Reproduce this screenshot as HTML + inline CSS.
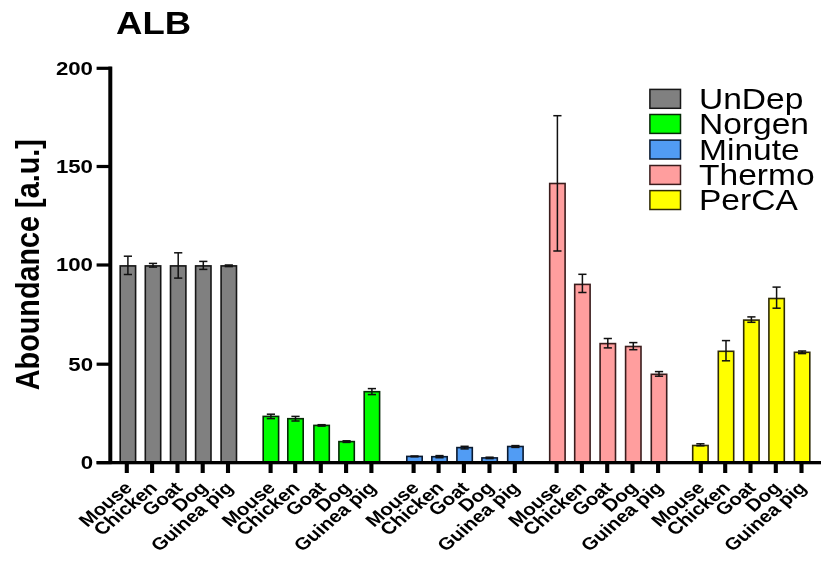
<!DOCTYPE html><html><head><meta charset="utf-8"><style>html,body{margin:0;padding:0;background:#fff;overflow:hidden;}svg{display:block;will-change:transform;}text{font-family:"Liberation Sans",sans-serif;}</style></head><body>
<svg width="830" height="568" viewBox="0 0 830 568">
<rect width="830" height="568" fill="#fff"/>
<text transform="translate(116,33.5) scale(1.16,1)" font-size="31.5" font-weight="bold" fill="#000">ALB</text>
<text transform="translate(38.5,390.2) scale(1.17,1) rotate(-90)" font-size="28.8" font-weight="bold" fill="#000">Aboundance [a.u.]</text>
<rect x="120.20" y="265.90" width="15.40" height="196.70" fill="#808080" stroke="#161616" stroke-width="1.6"/>
<rect x="127.15" y="256.20" width="1.5" height="18.30" fill="#111"/>
<rect x="123.80" y="255.45" width="8.2" height="1.5" fill="#111"/>
<rect x="123.80" y="273.75" width="8.2" height="1.5" fill="#111"/>
<rect x="124.75" y="463" width="4.1" height="10" fill="#000"/>
<rect x="145.30" y="265.90" width="15.40" height="196.70" fill="#808080" stroke="#161616" stroke-width="1.6"/>
<rect x="152.25" y="263.40" width="1.5" height="3.70" fill="#111"/>
<rect x="148.90" y="262.65" width="8.2" height="1.5" fill="#111"/>
<rect x="148.90" y="266.35" width="8.2" height="1.5" fill="#111"/>
<rect x="150.05" y="463" width="4.1" height="10" fill="#000"/>
<rect x="170.50" y="265.90" width="15.40" height="196.70" fill="#808080" stroke="#161616" stroke-width="1.6"/>
<rect x="177.45" y="252.80" width="1.5" height="25.30" fill="#111"/>
<rect x="174.10" y="252.05" width="8.2" height="1.5" fill="#111"/>
<rect x="174.10" y="277.35" width="8.2" height="1.5" fill="#111"/>
<rect x="175.45" y="463" width="4.1" height="10" fill="#000"/>
<rect x="195.60" y="265.90" width="15.40" height="196.70" fill="#808080" stroke="#161616" stroke-width="1.6"/>
<rect x="202.55" y="261.40" width="1.5" height="8.00" fill="#111"/>
<rect x="199.20" y="260.65" width="8.2" height="1.5" fill="#111"/>
<rect x="199.20" y="268.65" width="8.2" height="1.5" fill="#111"/>
<rect x="200.65" y="463" width="4.1" height="10" fill="#000"/>
<rect x="221.10" y="265.90" width="15.40" height="196.70" fill="#808080" stroke="#161616" stroke-width="1.6"/>
<rect x="228.05" y="265.00" width="1.5" height="1.60" fill="#111"/>
<rect x="224.70" y="264.25" width="8.2" height="1.5" fill="#111"/>
<rect x="224.70" y="265.85" width="8.2" height="1.5" fill="#111"/>
<rect x="225.95" y="463" width="4.1" height="10" fill="#000"/>
<rect x="263.20" y="416.40" width="15.40" height="46.20" fill="#00ff00" stroke="#062a06" stroke-width="1.6"/>
<rect x="270.15" y="414.20" width="1.5" height="4.40" fill="#111"/>
<rect x="266.80" y="413.45" width="8.2" height="1.5" fill="#111"/>
<rect x="266.80" y="417.85" width="8.2" height="1.5" fill="#111"/>
<rect x="268.55" y="463" width="4.1" height="10" fill="#000"/>
<rect x="287.80" y="418.70" width="15.40" height="43.90" fill="#00ff00" stroke="#062a06" stroke-width="1.6"/>
<rect x="294.75" y="416.40" width="1.5" height="4.60" fill="#111"/>
<rect x="291.40" y="415.65" width="8.2" height="1.5" fill="#111"/>
<rect x="291.40" y="420.25" width="8.2" height="1.5" fill="#111"/>
<rect x="293.15" y="463" width="4.1" height="10" fill="#000"/>
<rect x="313.90" y="425.40" width="15.40" height="37.20" fill="#00ff00" stroke="#062a06" stroke-width="1.6"/>
<rect x="320.85" y="424.70" width="1.5" height="1.40" fill="#111"/>
<rect x="317.50" y="423.95" width="8.2" height="1.5" fill="#111"/>
<rect x="317.50" y="425.35" width="8.2" height="1.5" fill="#111"/>
<rect x="318.75" y="463" width="4.1" height="10" fill="#000"/>
<rect x="338.90" y="441.60" width="15.40" height="21.00" fill="#00ff00" stroke="#062a06" stroke-width="1.6"/>
<rect x="345.85" y="440.80" width="1.5" height="1.60" fill="#111"/>
<rect x="342.50" y="440.05" width="8.2" height="1.5" fill="#111"/>
<rect x="342.50" y="441.65" width="8.2" height="1.5" fill="#111"/>
<rect x="344.05" y="463" width="4.1" height="10" fill="#000"/>
<rect x="364.20" y="391.70" width="15.40" height="70.90" fill="#00ff00" stroke="#062a06" stroke-width="1.6"/>
<rect x="371.15" y="388.60" width="1.5" height="6.00" fill="#111"/>
<rect x="367.80" y="387.85" width="8.2" height="1.5" fill="#111"/>
<rect x="367.80" y="393.85" width="8.2" height="1.5" fill="#111"/>
<rect x="369.35" y="463" width="4.1" height="10" fill="#000"/>
<rect x="406.80" y="456.40" width="15.40" height="6.20" fill="#519cf4" stroke="#0a1a30" stroke-width="1.6"/>
<rect x="413.75" y="456.00" width="1.5" height="0.80" fill="#111"/>
<rect x="410.40" y="455.25" width="8.2" height="1.5" fill="#111"/>
<rect x="410.40" y="456.05" width="8.2" height="1.5" fill="#111"/>
<rect x="411.55" y="463" width="4.1" height="10" fill="#000"/>
<rect x="431.80" y="456.70" width="15.40" height="5.90" fill="#519cf4" stroke="#0a1a30" stroke-width="1.6"/>
<rect x="438.75" y="455.60" width="1.5" height="2.10" fill="#111"/>
<rect x="435.40" y="454.85" width="8.2" height="1.5" fill="#111"/>
<rect x="435.40" y="456.95" width="8.2" height="1.5" fill="#111"/>
<rect x="436.55" y="463" width="4.1" height="10" fill="#000"/>
<rect x="456.90" y="447.60" width="15.40" height="15.00" fill="#519cf4" stroke="#0a1a30" stroke-width="1.6"/>
<rect x="463.85" y="446.30" width="1.5" height="2.60" fill="#111"/>
<rect x="460.50" y="445.55" width="8.2" height="1.5" fill="#111"/>
<rect x="460.50" y="448.15" width="8.2" height="1.5" fill="#111"/>
<rect x="461.85" y="463" width="4.1" height="10" fill="#000"/>
<rect x="481.90" y="457.90" width="15.40" height="4.70" fill="#519cf4" stroke="#0a1a30" stroke-width="1.6"/>
<rect x="488.85" y="457.20" width="1.5" height="1.40" fill="#111"/>
<rect x="485.50" y="456.45" width="8.2" height="1.5" fill="#111"/>
<rect x="485.50" y="457.85" width="8.2" height="1.5" fill="#111"/>
<rect x="487.45" y="463" width="4.1" height="10" fill="#000"/>
<rect x="507.70" y="446.50" width="15.40" height="16.10" fill="#519cf4" stroke="#0a1a30" stroke-width="1.6"/>
<rect x="514.65" y="445.60" width="1.5" height="1.80" fill="#111"/>
<rect x="511.30" y="444.85" width="8.2" height="1.5" fill="#111"/>
<rect x="511.30" y="446.65" width="8.2" height="1.5" fill="#111"/>
<rect x="512.75" y="463" width="4.1" height="10" fill="#000"/>
<rect x="549.70" y="183.50" width="15.40" height="279.10" fill="#ff9e9e" stroke="#3a1c1c" stroke-width="1.6"/>
<rect x="556.65" y="115.70" width="1.5" height="135.30" fill="#111"/>
<rect x="553.30" y="114.95" width="8.2" height="1.5" fill="#111"/>
<rect x="553.30" y="250.25" width="8.2" height="1.5" fill="#111"/>
<rect x="554.55" y="463" width="4.1" height="10" fill="#000"/>
<rect x="574.70" y="284.40" width="15.40" height="178.20" fill="#ff9e9e" stroke="#3a1c1c" stroke-width="1.6"/>
<rect x="581.65" y="274.30" width="1.5" height="18.20" fill="#111"/>
<rect x="578.30" y="273.55" width="8.2" height="1.5" fill="#111"/>
<rect x="578.30" y="291.75" width="8.2" height="1.5" fill="#111"/>
<rect x="579.85" y="463" width="4.1" height="10" fill="#000"/>
<rect x="600.10" y="343.60" width="15.40" height="119.00" fill="#ff9e9e" stroke="#3a1c1c" stroke-width="1.6"/>
<rect x="607.05" y="338.50" width="1.5" height="9.40" fill="#111"/>
<rect x="603.70" y="337.75" width="8.2" height="1.5" fill="#111"/>
<rect x="603.70" y="347.15" width="8.2" height="1.5" fill="#111"/>
<rect x="605.15" y="463" width="4.1" height="10" fill="#000"/>
<rect x="625.60" y="346.50" width="15.40" height="116.10" fill="#ff9e9e" stroke="#3a1c1c" stroke-width="1.6"/>
<rect x="632.55" y="342.60" width="1.5" height="7.10" fill="#111"/>
<rect x="629.20" y="341.85" width="8.2" height="1.5" fill="#111"/>
<rect x="629.20" y="348.95" width="8.2" height="1.5" fill="#111"/>
<rect x="630.45" y="463" width="4.1" height="10" fill="#000"/>
<rect x="651.30" y="374.30" width="15.40" height="88.30" fill="#ff9e9e" stroke="#3a1c1c" stroke-width="1.6"/>
<rect x="658.25" y="371.60" width="1.5" height="4.60" fill="#111"/>
<rect x="654.90" y="370.85" width="8.2" height="1.5" fill="#111"/>
<rect x="654.90" y="375.45" width="8.2" height="1.5" fill="#111"/>
<rect x="656.05" y="463" width="4.1" height="10" fill="#000"/>
<rect x="692.70" y="445.50" width="15.40" height="17.10" fill="#ffff00" stroke="#2e2a06" stroke-width="1.6"/>
<rect x="699.65" y="443.80" width="1.5" height="2.00" fill="#111"/>
<rect x="696.30" y="443.05" width="8.2" height="1.5" fill="#111"/>
<rect x="696.30" y="445.05" width="8.2" height="1.5" fill="#111"/>
<rect x="698.75" y="463" width="4.1" height="10" fill="#000"/>
<rect x="718.30" y="351.30" width="15.40" height="111.30" fill="#ffff00" stroke="#2e2a06" stroke-width="1.6"/>
<rect x="725.25" y="340.60" width="1.5" height="20.20" fill="#111"/>
<rect x="721.90" y="339.85" width="8.2" height="1.5" fill="#111"/>
<rect x="721.90" y="360.05" width="8.2" height="1.5" fill="#111"/>
<rect x="723.15" y="463" width="4.1" height="10" fill="#000"/>
<rect x="743.70" y="320.10" width="15.40" height="142.50" fill="#ffff00" stroke="#2e2a06" stroke-width="1.6"/>
<rect x="750.65" y="316.90" width="1.5" height="5.40" fill="#111"/>
<rect x="747.30" y="316.15" width="8.2" height="1.5" fill="#111"/>
<rect x="747.30" y="321.55" width="8.2" height="1.5" fill="#111"/>
<rect x="748.45" y="463" width="4.1" height="10" fill="#000"/>
<rect x="768.90" y="298.50" width="15.40" height="164.10" fill="#ffff00" stroke="#2e2a06" stroke-width="1.6"/>
<rect x="775.85" y="287.10" width="1.5" height="21.10" fill="#111"/>
<rect x="772.50" y="286.35" width="8.2" height="1.5" fill="#111"/>
<rect x="772.50" y="307.45" width="8.2" height="1.5" fill="#111"/>
<rect x="773.75" y="463" width="4.1" height="10" fill="#000"/>
<rect x="794.40" y="352.30" width="15.40" height="110.30" fill="#ffff00" stroke="#2e2a06" stroke-width="1.6"/>
<rect x="801.35" y="351.00" width="1.5" height="2.60" fill="#111"/>
<rect x="798.00" y="350.25" width="8.2" height="1.5" fill="#111"/>
<rect x="798.00" y="352.85" width="8.2" height="1.5" fill="#111"/>
<rect x="799.45" y="463" width="4.1" height="10" fill="#000"/>
<rect x="108.3" y="66.6" width="4" height="397" fill="#000"/>
<rect x="96.6" y="461" width="724.4" height="3.3" fill="#000"/>
<rect x="96.6" y="66.70" width="15" height="3.2" fill="#000"/>
<text transform="translate(93,74.70) scale(1.165,1)" text-anchor="end" font-size="19.1" font-weight="bold" fill="#000">200</text>
<rect x="96.6" y="164.90" width="15" height="3.2" fill="#000"/>
<text transform="translate(93,172.90) scale(1.165,1)" text-anchor="end" font-size="19.1" font-weight="bold" fill="#000">150</text>
<rect x="96.6" y="263.40" width="15" height="3.2" fill="#000"/>
<text transform="translate(93,271.40) scale(1.165,1)" text-anchor="end" font-size="19.1" font-weight="bold" fill="#000">100</text>
<rect x="96.6" y="362.60" width="15" height="3.2" fill="#000"/>
<text transform="translate(93,370.60) scale(1.165,1)" text-anchor="end" font-size="19.1" font-weight="bold" fill="#000">50</text>
<rect x="96.6" y="461.00" width="15" height="3.2" fill="#000"/>
<text transform="translate(93,469.00) scale(1.165,1)" text-anchor="end" font-size="19.1" font-weight="bold" fill="#000">0</text>
<text transform="translate(133.40,489) scale(1.19,1) rotate(-45)" text-anchor="end" font-size="17.3" font-weight="bold" fill="#000">Mouse</text>
<text transform="translate(158.50,489) scale(1.19,1) rotate(-45)" text-anchor="end" font-size="17.3" font-weight="bold" fill="#000">Chicken</text>
<text transform="translate(183.70,489) scale(1.19,1) rotate(-45)" text-anchor="end" font-size="17.3" font-weight="bold" fill="#000">Goat</text>
<text transform="translate(208.80,489) scale(1.19,1) rotate(-45)" text-anchor="end" font-size="17.3" font-weight="bold" fill="#000">Dog</text>
<text transform="translate(234.30,489) scale(1.19,1) rotate(-45)" text-anchor="end" font-size="17.3" font-weight="bold" fill="#000">Guinea pig</text>
<text transform="translate(276.40,489) scale(1.19,1) rotate(-45)" text-anchor="end" font-size="17.3" font-weight="bold" fill="#000">Mouse</text>
<text transform="translate(301.00,489) scale(1.19,1) rotate(-45)" text-anchor="end" font-size="17.3" font-weight="bold" fill="#000">Chicken</text>
<text transform="translate(327.10,489) scale(1.19,1) rotate(-45)" text-anchor="end" font-size="17.3" font-weight="bold" fill="#000">Goat</text>
<text transform="translate(352.10,489) scale(1.19,1) rotate(-45)" text-anchor="end" font-size="17.3" font-weight="bold" fill="#000">Dog</text>
<text transform="translate(377.40,489) scale(1.19,1) rotate(-45)" text-anchor="end" font-size="17.3" font-weight="bold" fill="#000">Guinea pig</text>
<text transform="translate(420.00,489) scale(1.19,1) rotate(-45)" text-anchor="end" font-size="17.3" font-weight="bold" fill="#000">Mouse</text>
<text transform="translate(445.00,489) scale(1.19,1) rotate(-45)" text-anchor="end" font-size="17.3" font-weight="bold" fill="#000">Chicken</text>
<text transform="translate(470.10,489) scale(1.19,1) rotate(-45)" text-anchor="end" font-size="17.3" font-weight="bold" fill="#000">Goat</text>
<text transform="translate(495.10,489) scale(1.19,1) rotate(-45)" text-anchor="end" font-size="17.3" font-weight="bold" fill="#000">Dog</text>
<text transform="translate(520.90,489) scale(1.19,1) rotate(-45)" text-anchor="end" font-size="17.3" font-weight="bold" fill="#000">Guinea pig</text>
<text transform="translate(562.90,489) scale(1.19,1) rotate(-45)" text-anchor="end" font-size="17.3" font-weight="bold" fill="#000">Mouse</text>
<text transform="translate(587.90,489) scale(1.19,1) rotate(-45)" text-anchor="end" font-size="17.3" font-weight="bold" fill="#000">Chicken</text>
<text transform="translate(613.30,489) scale(1.19,1) rotate(-45)" text-anchor="end" font-size="17.3" font-weight="bold" fill="#000">Goat</text>
<text transform="translate(638.80,489) scale(1.19,1) rotate(-45)" text-anchor="end" font-size="17.3" font-weight="bold" fill="#000">Dog</text>
<text transform="translate(664.50,489) scale(1.19,1) rotate(-45)" text-anchor="end" font-size="17.3" font-weight="bold" fill="#000">Guinea pig</text>
<text transform="translate(705.90,489) scale(1.19,1) rotate(-45)" text-anchor="end" font-size="17.3" font-weight="bold" fill="#000">Mouse</text>
<text transform="translate(731.50,489) scale(1.19,1) rotate(-45)" text-anchor="end" font-size="17.3" font-weight="bold" fill="#000">Chicken</text>
<text transform="translate(756.90,489) scale(1.19,1) rotate(-45)" text-anchor="end" font-size="17.3" font-weight="bold" fill="#000">Goat</text>
<text transform="translate(782.10,489) scale(1.19,1) rotate(-45)" text-anchor="end" font-size="17.3" font-weight="bold" fill="#000">Dog</text>
<text transform="translate(807.60,489) scale(1.19,1) rotate(-45)" text-anchor="end" font-size="17.3" font-weight="bold" fill="#000">Guinea pig</text>
<rect x="649.9" y="89.40" width="30.6" height="18.9" fill="#808080" stroke="#161616" stroke-width="1.5"/>
<text transform="translate(699,108.90) scale(1.165,1)" font-size="28.8" fill="#000">UnDep</text>
<rect x="649.9" y="114.50" width="30.6" height="18.9" fill="#00ff00" stroke="#062a06" stroke-width="1.5"/>
<text transform="translate(699,134.00) scale(1.165,1)" font-size="28.8" fill="#000">Norgen</text>
<rect x="649.9" y="140.10" width="30.6" height="18.9" fill="#519cf4" stroke="#0a1a30" stroke-width="1.5"/>
<text transform="translate(699,159.60) scale(1.165,1)" font-size="28.8" fill="#000">Minute</text>
<rect x="649.9" y="165.50" width="30.6" height="18.9" fill="#ff9e9e" stroke="#3a1c1c" stroke-width="1.5"/>
<text transform="translate(699,185.00) scale(1.165,1)" font-size="28.8" fill="#000">Thermo</text>
<rect x="649.9" y="190.60" width="30.6" height="18.9" fill="#ffff00" stroke="#2e2a06" stroke-width="1.5"/>
<text transform="translate(699,210.10) scale(1.165,1)" font-size="28.8" fill="#000">PerCA</text>
</svg></body></html>
